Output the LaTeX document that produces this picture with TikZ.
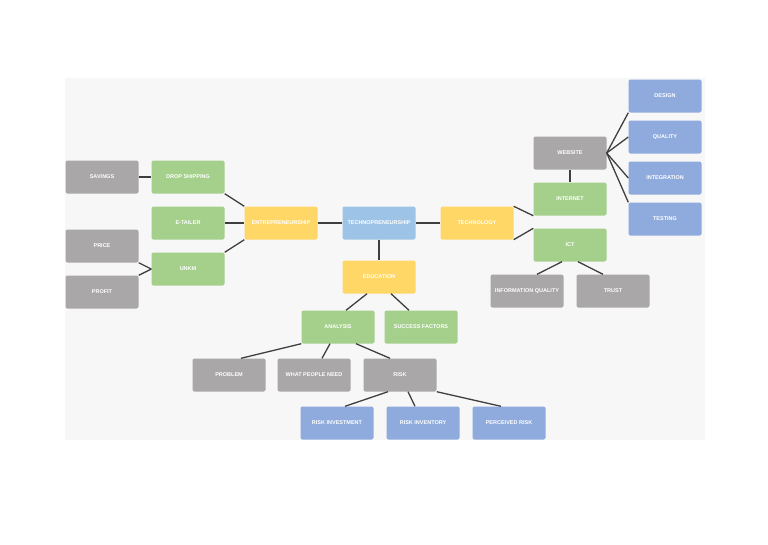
\documentclass[tikz,border=0pt]{standalone}
\usepackage{fontspec}
\setmainfont{Liberation Sans}
\definecolor{cg}{HTML}{A9A7A7}
\definecolor{cgr}{HTML}{A4D08C}
\definecolor{cy}{HTML}{FED766}
\definecolor{cb}{HTML}{9DC3E6}
\definecolor{cp}{HTML}{8FAADC}
\definecolor{bg}{HTML}{F7F7F7}
\definecolor{ln}{HTML}{3F3F3F}
\tikzset{box/.style={rounded corners=2pt,minimum width=73pt,minimum height=33pt,inner sep=1pt,text=white,font=\fontsize{5.5}{6}\selectfont\bfseries},
bgray/.style={box,fill=cg},bgreen/.style={box,fill=cgr},byel/.style={box,fill=cy},bblue/.style={box,fill=cb},bpur/.style={box,fill=cp},
ed/.style={draw=ln,line width=1.3pt}}
\begin{document}
\begin{tikzpicture}[x=1pt,y=-1pt]
\useasboundingbox (0,0) rectangle (768,544);
\fill[bg] (65,78) rectangle (705,440);
\node[bgray] (sav) at (102,177) {SAVINGS};
\node[bgreen] (drop) at (188,177) {DROP SHIPPING};
\node[bgreen] (etl) at (188,223) {E-TAILER};
\node[bgreen] (unkm) at (188,269) {UNKM};
\node[bgray] (price) at (102,246) {PRICE};
\node[bgray] (profit) at (102,292) {PROFIT};
\node[byel] (ent) at (281,223) {ENTREPRENEURSHIP};
\node[bblue] (tech) at (379,223) {TECHNOPRENEURSHIP};
\node[byel] (tgy) at (477,223) {TECHNOLOGY};
\node[byel] (edu) at (379,277) {EDUCATION};
\node[bgreen] (ana) at (338,327) {ANALYSIS};
\node[bgreen] (suc) at (421,327) {SUCCESS FACTORS};
\node[bgray] (prob) at (229,375) {PROBLEM};
\node[bgray] (wpn) at (314,375) {WHAT PEOPLE NEED};
\node[bgray] (risk) at (400,375) {RISK};
\node[bpur] (rinv) at (337,423) {RISK INVESTMENT};
\node[bpur] (rint) at (423,423) {RISK INVENTORY};
\node[bpur] (per) at (509,423) {PERCEIVED RISK};
\node[bgray] (web) at (570,153) {WEBSITE};
\node[bgreen] (int) at (570,199) {INTERNET};
\node[bgreen] (ict) at (570,245) {ICT};
\node[bgray] (iq) at (527,291) {INFORMATION QUALITY};
\node[bgray] (tru) at (613,291) {TRUST};
\node[bpur] (des) at (665,96) {DESIGN};
\node[bpur] (qua) at (665,137) {QUALITY};
\node[bpur] (integ) at (665,178) {INTEGRATION};
\node[bpur] (tst) at (665,219) {TESTING};
\draw[ed] (sav) -- (drop);
\draw[ed] (drop.south east) -- (ent.north west);
\draw[ed] (etl) -- (ent);
\draw[ed] (unkm.north east) -- (ent.south west);
\draw[ed] (price.south east) -- (unkm.west);
\draw[ed] (profit.north east) -- (unkm.west);
\draw[ed] (ent) -- (tech);
\draw[ed] (tech) -- (tgy);
\draw[ed] (tech) -- (edu);
\draw[ed] ([xshift=-12pt]edu.south) -- ([xshift=8pt]ana.north);
\draw[ed] ([xshift=12pt]edu.south) -- ([xshift=-12pt]suc.north);
\draw[ed] (ana.south west) -- ([xshift=12pt]prob.north);
\draw[ed] ([xshift=-8pt]ana.south) -- ([xshift=8pt]wpn.north);
\draw[ed] ([xshift=18pt]ana.south) -- ([xshift=-10pt]risk.north);
\draw[ed] ([xshift=-12pt]risk.south) -- ([xshift=8pt]rinv.north);
\draw[ed] ([xshift=8pt]risk.south) -- ([xshift=-8pt]rint.north);
\draw[ed] (risk.south east) -- ([xshift=-8pt]per.north);
\draw[ed] (tgy.north east) -- (int.south west);
\draw[ed] (tgy.south east) -- (ict.north west);
\draw[ed] (web) -- (int);
\draw[ed] ([xshift=-8pt]ict.south) -- ([xshift=10pt]iq.north);
\draw[ed] ([xshift=8pt]ict.south) -- ([xshift=-10pt]tru.north);
\draw[ed] (web.east) -- (des.south west);
\draw[ed] (web.east) -- (qua.west);
\draw[ed] (web.east) -- (integ.west);
\draw[ed] (web.east) -- (tst.north west);
\end{tikzpicture}
\end{document}
